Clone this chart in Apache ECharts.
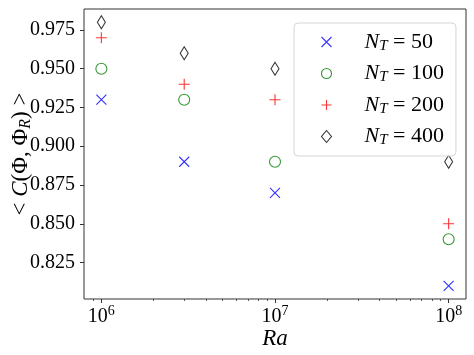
<!DOCTYPE html>
<html>
<head>
<meta charset="utf-8">
<script src="https://cdn.jsdelivr.net/npm/echarts@6/dist/echarts.min.js"></script>
<style>
html,body{margin:0;padding:0;background:#fff;}
#chart{width:474px;height:355px;}
</style>
</head>
<body>
<div id="chart"></div>
<script>
// Data
const raValues = [1e6, 3e6, 1e7, 1e8];
const nt50 = [0.93, 0.89, 0.87, 0.81];
const nt100 = [0.95, 0.93, 0.89, 0.84];
const nt200 = [0.97, 0.94, 0.93, 0.85];
const nt400 = [0.98, 0.96, 0.95, 0.89];
const ntLabels = ['50', '100', '200', '400'];
const xMajorTicks = [1e6, 1e7, 1e8];
const xMinorTicks = [9e5, 2e6, 3e6, 4e6, 5e6, 6e6, 7e6, 8e6, 9e6, 2e7, 3e7, 4e7, 5e7, 6e7, 7e7, 8e7, 9e7];
const yTicks = [0.825, 0.85, 0.875, 0.9, 0.925, 0.95, 0.975];

const FONT = 'Liberation Serif';
const xMin = Math.pow(10, 5.9), xMax = Math.pow(10, 8.1);
const yMin = 0.8015, yMax = 0.9885;

function pairs(vals) { return raValues.map((r, i) => [r, vals[i]]); }

const seriesDefs = [
  { vals: nt50, symbol: 'path://M0,0L10,10M10,0L0,10', size: 10, color: '#0000ff' },
  { vals: nt100, symbol: 'circle', size: 11, color: '#008000' },
  { vals: nt200, symbol: 'path://M5,0L5,10M0,5L10,5', size: 11, color: '#ff0000' },
  { vals: nt400, symbol: 'diamond', size: [8, 13], color: '#000000' }
];

const chart = echarts.init(document.getElementById('chart'), null, { renderer: 'canvas' });

const option = {
  animation: false,
  backgroundColor: '#ffffff',
  textStyle: { fontFamily: FONT },
  grid: { left: 84, right: 8, top: 9, bottom: 56, show: true, borderColor: '#333', borderWidth: 1, containLabel: false, outerBoundsMode: 'none' },
  xAxis: [{
    type: 'log', logBase: 10, min: xMin, max: xMax,
    name: 'Ra', nameLocation: 'middle', nameGap: 28, nameMoveOverlap: false,
    nameTextStyle: { fontFamily: FONT, fontSize: 23, fontStyle: 'italic', color: '#000' },
    axisLine: { show: false },
    splitLine: { show: false },
    axisTick: { show: true, inside: false, length: 4, customValues: xMajorTicks, lineStyle: { color: '#333', width: 1 } },
    axisLabel: {
      customValues: xMajorTicks, margin: 5, showMinLabel: true, showMaxLabel: true,
      formatter: function (v) { return '{b|10}{sup|' + Math.round(Math.log10(v)) + '}'; },
      rich: {
        b: { fontFamily: FONT, fontSize: 20, color: '#000', verticalAlign: 'bottom' },
        sup: { fontFamily: FONT, fontSize: 14, color: '#000', verticalAlign: 'top', padding: [0, 0, 9, 0] }
      }
    }
  }, {
    type: 'log', logBase: 10, min: xMin, max: xMax, gridIndex: 0, position: 'bottom',
    axisLine: { show: false }, splitLine: { show: false }, axisLabel: { show: false },
    axisTick: { show: true, inside: false, length: 2, customValues: xMinorTicks, lineStyle: { color: '#333', width: 0.8 } }
  }],
  yAxis: {
    type: 'value', min: yMin, max: yMax,
    name: '{t|< }{i|C}{t|(Φ, Φ}{sub|R}{t|) >}', nameLocation: 'middle', nameGap: 50, nameMoveOverlap: false,
    nameTextStyle: {
      rich: {
        t: { fontFamily: FONT, fontSize: 23, color: '#000' },
        i: { fontFamily: FONT, fontSize: 23, fontStyle: 'italic', color: '#000' },
        sub: { fontFamily: FONT, fontSize: 16, fontStyle: 'italic', color: '#000', verticalAlign: 'bottom', padding: [10, 0, 0, 0] }
      }
    },
    axisLine: { show: false },
    splitLine: { show: false },
    axisTick: { show: true, inside: false, length: 4, customValues: yTicks, lineStyle: { color: '#333', width: 1 } },
    axisLabel: {
      customValues: yTicks, margin: 9, fontFamily: FONT, fontSize: 20, color: '#000',
      formatter: function (v) { return v.toFixed(3); }
    }
  },
  legend: {
    orient: 'vertical', left: 294, top: 23,
    padding: [8, 12, 8, 25], itemGap: 9, itemWidth: 10, itemHeight: 12,
    backgroundColor: 'rgba(255,255,255,0.8)', borderColor: '#d5d5d5', borderWidth: 1, borderRadius: 4,
    selectedMode: false,
    itemStyle: { borderWidth: 1.1 },
    formatter: function (name) {
      const idx = Number(name.split('_')[1]);
      return '{sp|}{i|N}{sub|T}{t| = ' + ntLabels[idx] + '}';
    },
    textStyle: {
      rich: {
        sp: { width: 28 },
        t: { fontFamily: FONT, fontSize: 22, color: '#000' },
        i: { fontFamily: FONT, fontSize: 22, fontStyle: 'italic', color: '#000' },
        sub: { fontFamily: FONT, fontSize: 15, fontStyle: 'italic', color: '#000', verticalAlign: 'bottom', padding: [8, 0, 0, 0] }
      }
    }
  },
  series: seriesDefs.map((d, i) => ({
    name: 'NT_' + i,
    type: 'scatter',
    xAxisIndex: 0,
    data: pairs(d.vals),
    symbol: d.symbol,
    symbolSize: d.size,
    itemStyle: { color: 'none', borderColor: d.color, borderWidth: 1.1 },
    emphasis: { disabled: true }
  }))
};

chart.setOption(option);
</script>
</body>
</html>
